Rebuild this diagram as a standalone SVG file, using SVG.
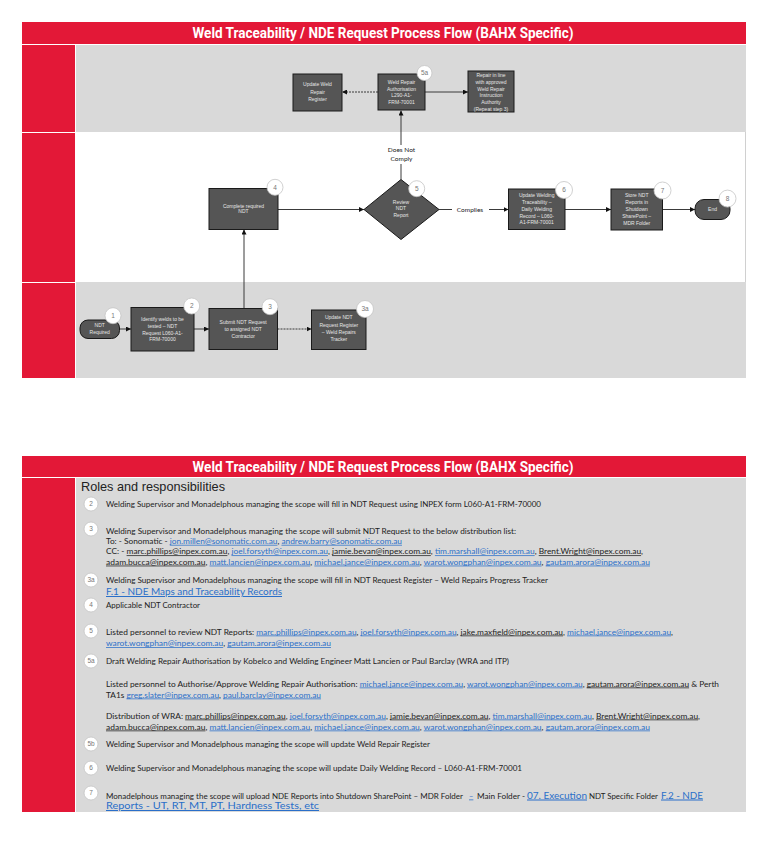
<svg xmlns="http://www.w3.org/2000/svg" width="768" height="866" viewBox="0 0 768 866">
<defs>
<style>
.red{fill:#e31837}
.lane{fill:#d9d9d9}
.title{font-family:Roboto,"Liberation Sans",sans-serif;font-weight:bold;font-size:14px;fill:#fff;text-anchor:middle}
.box{fill:#555;stroke:#1a1a1a;stroke-width:1}
.bt{font-family:"Liberation Sans",Arial,sans-serif;font-size:5px;fill:#e6e6e6;text-anchor:middle}
.num{fill:#fff;stroke:#c4c4c4;stroke-width:0.8}
.nt{font-family:"Liberation Sans",Arial,sans-serif;font-size:6.5px;fill:#777;text-anchor:middle}
.conn{stroke:#3a3a3a;stroke-width:1;fill:none}
.dash{stroke-dasharray:2 1}
.lbl{font-family:Lato,"Liberation Sans",sans-serif;font-size:6.5px;fill:#222;text-anchor:middle}
.tx{font-family:Lato,"Liberation Sans",sans-serif;font-size:7.5px;fill:#222}
.a{fill:#2a6fc9;text-decoration:underline}
.u{text-decoration:underline}
.big{font-size:10px}
.h{font-family:"Liberation Sans",Arial,sans-serif;font-size:13px;fill:#222}
</style>
<marker id="ah" viewBox="0 0 6 6" refX="6" refY="3" markerWidth="5" markerHeight="5" orient="auto" markerUnits="userSpaceOnUse"><path d="M0,0 L6,3 L0,6 z" fill="#111"/></marker>
</defs>
<rect width="768" height="866" fill="#fff"/>

<!-- Top slide -->
<g id="top-slide">
<rect class="red" x="22" y="22" width="724" height="22"/>
<text class="title" x="383" y="38" textLength="381" lengthAdjust="spacingAndGlyphs">Weld Traceability / NDE Request Process Flow (BAHX Specific)</text>
<rect class="red" x="22" y="45" width="53" height="333"/>
<rect x="22" y="132" width="53" height="1" fill="#fff"/>
<rect x="22" y="282" width="53" height="1" fill="#fff"/>
<rect class="lane" x="76" y="45" width="670" height="87"/>
<rect x="76" y="132" width="670" height="150" fill="#fff"/>
<line x1="745.5" y1="132" x2="745.5" y2="282" stroke="#d0d0d0" stroke-width="1"/>
<rect class="lane" x="76" y="282" width="670" height="96"/>
</g>

<g id="connectors">
<path class="conn dash" d="M378,92 L342,92" marker-end="url(#ah)"/>
<path class="conn" d="M425,92 L468,92" marker-end="url(#ah)"/>
<path class="conn" d="M401,179.5 L401,164"/>
<path class="conn" d="M401,145 L401,110.5" marker-end="url(#ah)"/>
<text class="lbl" x="401.5" y="152">Does Not</text>
<text class="lbl" x="401.5" y="161">Comply</text>
<path class="conn" d="M278,209.5 L364,209.5" marker-end="url(#ah)"/>
<path class="conn" d="M439,209.5 L452,209.5"/>
<text class="lbl" x="470" y="211.5">Complies</text>
<path class="conn" d="M489,209.5 L508.5,209.5" marker-end="url(#ah)"/>
<path class="conn" d="M565,209.5 L611,209.5" marker-end="url(#ah)"/>
<path class="conn" d="M662.5,209.5 L695,209.5" marker-end="url(#ah)"/>
<path class="conn" d="M119.5,329 L131,329" marker-end="url(#ah)"/>
<path class="conn" d="M194,329 L209,329" marker-end="url(#ah)"/>
<path class="conn dash" d="M277.5,329 L311.5,329" marker-end="url(#ah)"/>
<path class="conn" d="M244,308.5 L244,229.5" marker-end="url(#ah)"/>
</g>

<g id="n-update-weld-repair-register">
<rect class="box" x="293" y="74" width="49" height="37"/>
<text class="bt" x="317.5" y="86">Update Weld</text>
<text class="bt" x="317.5" y="93.5">Repair</text>
<text class="bt" x="317.5" y="101">Register</text>
</g>
<g id="n-weld-repair-authorisation">
<rect class="box" x="378" y="74" width="47" height="36"/>
<text class="bt" x="401.5" y="83.5">Weld Repair</text>
<text class="bt" x="401.5" y="90.5">Authorisation</text>
<text class="bt" x="401.5" y="97">L290-A1-</text>
<text class="bt" x="401.5" y="104">FRM-70001</text>
<circle class="num" cx="424.5" cy="73" r="7.5"/>
<text class="nt" x="424.5" y="75.3">5a</text>
</g>
<g id="n-repair-in-line">
<rect class="box" x="468" y="71" width="46" height="41"/>
<text class="bt" x="491" y="76.8">Repair in line</text>
<text class="bt" x="491" y="83.8">with approved</text>
<text class="bt" x="491" y="90.5">Weld Repair</text>
<text class="bt" x="491" y="97">Instruction</text>
<text class="bt" x="491" y="104">Authority</text>
<text class="bt" x="491" y="110.5">(Repeat step 3)</text>
</g>
<g id="n-complete-ndt">
<rect class="box" x="209" y="188.5" width="69" height="41"/>
<text class="bt" x="243.5" y="207.5">Complete required</text>
<text class="bt" x="243.5" y="212.5">NDT</text>
<circle class="num" cx="275" cy="187.3" r="8"/>
<text class="nt" x="275" y="189.6">4</text>
</g>
<g id="n-review-ndt-report">
<polygon class="box" points="401,179.5 439,209.5 401,239.5 364,209.5"/>
<text class="bt" x="401" y="203.5">Review</text>
<text class="bt" x="401" y="210">NDT</text>
<text class="bt" x="401" y="216.8">Report</text>
<circle class="num" cx="416.7" cy="188.7" r="8"/>
<text class="nt" x="416.7" y="191">5</text>
</g>
<g id="n-update-welding-traceability">
<rect class="box" x="508.5" y="189" width="56.5" height="40.5"/>
<text class="bt" x="536.7" y="196.8">Update Welding</text>
<text class="bt" x="536.7" y="203.5">Traceability –</text>
<text class="bt" x="536.7" y="210.8">Daily Welding</text>
<text class="bt" x="536.7" y="217.5">Record – L060-</text>
<text class="bt" x="536.7" y="224">A1-FRM-70001</text>
<circle class="num" cx="564" cy="190" r="8.5"/>
<text class="nt" x="564" y="192.3">6</text>
</g>
<g id="n-store-ndt-reports">
<rect class="box" x="611" y="189" width="51.5" height="41"/>
<text class="bt" x="636.7" y="196.8">Store NDT</text>
<text class="bt" x="636.7" y="204">Reports in</text>
<text class="bt" x="636.7" y="210.8">Shutdown</text>
<text class="bt" x="636.7" y="217.5">SharePoint –</text>
<text class="bt" x="636.7" y="224.5">MDR Folder</text>
<circle class="num" cx="662.5" cy="190.5" r="8.5"/>
<text class="nt" x="662.5" y="192.8">7</text>
</g>
<g id="n-end">
<rect class="box" x="695" y="199.5" width="35" height="20" rx="9"/>
<text class="bt" x="712.5" y="211.3">End</text>
<circle class="num" cx="727.5" cy="198.6" r="8.5"/>
<text class="nt" x="727.5" y="200.9">8</text>
</g>
<g id="n-ndt-required">
<rect class="box" x="80" y="320" width="39.5" height="18.5" rx="8"/>
<text class="bt" x="99.7" y="326.8">NDT</text>
<text class="bt" x="99.7" y="334">Required</text>
<circle class="num" cx="113" cy="315.7" r="8"/>
<text class="nt" x="113" y="318">1</text>
</g>
<g id="n-identify-welds">
<rect class="box" x="131" y="307.5" width="63" height="43.5"/>
<text class="bt" x="162.5" y="320.8">Identify welds to be</text>
<text class="bt" x="162.5" y="327.5">tested – NDT</text>
<text class="bt" x="162.5" y="334.5">Request L060-A1-</text>
<text class="bt" x="162.5" y="341">FRM-70000</text>
<circle class="num" cx="191.7" cy="306" r="8"/>
<text class="nt" x="191.7" y="308.3">2</text>
</g>
<g id="n-submit-ndt-request">
<rect class="box" x="209" y="308.5" width="68.5" height="41"/>
<text class="bt" x="243.2" y="324">Submit NDT Request</text>
<text class="bt" x="243.2" y="330.8">to assigned NDT</text>
<text class="bt" x="243.2" y="337.5">Contractor</text>
<circle class="num" cx="270" cy="306.7" r="8"/>
<text class="nt" x="270" y="309">3</text>
</g>
<g id="n-update-ndt-register">
<rect class="box" x="311.5" y="310" width="54.5" height="39.5"/>
<text class="bt" x="338.8" y="318.5">Update NDT</text>
<text class="bt" x="338.8" y="326.8">Request Register</text>
<text class="bt" x="338.8" y="334">– Weld Repairs</text>
<text class="bt" x="338.8" y="341">Tracker</text>
<circle class="num" cx="365" cy="309" r="8.5"/>
<text class="nt" x="365" y="311.3">3a</text>
</g>

<!-- Bottom slide -->
<g id="bottom-slide">
<rect class="red" x="22" y="456" width="724" height="21"/>
<text class="title" x="383" y="471.5" textLength="381" lengthAdjust="spacingAndGlyphs">Weld Traceability / NDE Request Process Flow (BAHX Specific)</text>
<rect class="red" x="22" y="478" width="53" height="334"/>
<rect class="lane" x="76" y="478" width="670" height="334"/>
<text class="h" x="81" y="491" textLength="144" lengthAdjust="spacingAndGlyphs">Roles and responsibilities</text>

<g id="r2">
<circle class="num" cx="91" cy="504" r="7"/><text class="nt" x="91" y="506.3">2</text>
<text class="tx" x="106" y="507" textLength="435" lengthAdjust="spacingAndGlyphs">Welding Supervisor and Monadelphous managing the scope will fill in NDT Request using INPEX form L060-A1-FRM-70000</text>
</g>
<g id="r3">
<circle class="num" cx="91" cy="529" r="7"/><text class="nt" x="91" y="531.3">3</text>
<text class="tx" x="106" y="533.5" textLength="410" lengthAdjust="spacingAndGlyphs">Welding Supervisor and Monadelphous managing the scope will submit NDT Request to the below distribution list:</text>
<text class="tx" x="106" y="543.8" textLength="296" lengthAdjust="spacingAndGlyphs">To: - Sonomatic - <tspan class="a">jon.millen@sonomatic.com.au</tspan>, <tspan class="a">andrew.barry@sonomatic.com.au</tspan></text>
<text class="tx" x="106" y="554.3" textLength="537" lengthAdjust="spacingAndGlyphs">CC: - <tspan class="u">marc.phillips@inpex.com.au</tspan>, <tspan class="a">joel.forsyth@inpex.com.au</tspan>, <tspan class="u">jamie.bevan@inpex.com.au</tspan>, <tspan class="a">tim.marshall@inpex.com.au</tspan>, <tspan class="u">Brent.Wright@inpex.com.au</tspan>,</text>
<text class="tx" x="106" y="564.6" textLength="544" lengthAdjust="spacingAndGlyphs"><tspan class="u">adam.bucca@inpex.com.au</tspan>, <tspan class="a">matt.lancien@inpex.com.au</tspan>, <tspan class="a">michael.jance@inpex.com.au</tspan>, <tspan class="a">warot.wongphan@inpex.com.au</tspan>, <tspan class="a">gautam.arora@inpex.com.au</tspan></text>
</g>
<g id="r3a">
<circle class="num" cx="91" cy="580" r="7"/><text class="nt" x="91" y="582.3">3a</text>
<text class="tx" x="106" y="582.5" textLength="442" lengthAdjust="spacingAndGlyphs">Welding Supervisor and Monadelphous managing the scope will fill in NDT Request Register – Weld Repairs Progress Tracker</text>
<text class="tx big a" x="106" y="595" textLength="176" lengthAdjust="spacingAndGlyphs">F.1 - NDE Maps and Traceability Records</text>
</g>
<g id="r4">
<circle class="num" cx="91" cy="605" r="7"/><text class="nt" x="91" y="607.3">4</text>
<text class="tx" x="106" y="607.5" textLength="94" lengthAdjust="spacingAndGlyphs">Applicable NDT Contractor</text>
</g>
<g id="r5">
<circle class="num" cx="91" cy="631" r="7"/><text class="nt" x="91" y="633.3">5</text>
<text class="tx" x="106" y="634.5" textLength="567" lengthAdjust="spacingAndGlyphs">Listed personnel to review NDT Reports: <tspan class="a">marc.phillips@inpex.com.au</tspan>, <tspan class="a">joel.forsyth@inpex.com.au</tspan>, <tspan class="u">jake.maxfield@inpex.com.au</tspan>, <tspan class="a">michael.jance@inpex.com.au</tspan>,</text>
<text class="tx" x="106" y="646" textLength="225" lengthAdjust="spacingAndGlyphs"><tspan class="a">warot.wongphan@inpex.com.au</tspan>, <tspan class="a">gautam.arora@inpex.com.au</tspan></text>
</g>
<g id="r5a">
<circle class="num" cx="91" cy="661" r="7"/><text class="nt" x="91" y="663.3">5a</text>
<text class="tx" x="106" y="663.5" textLength="403" lengthAdjust="spacingAndGlyphs">Draft Welding Repair Authorisation by Kobelco and Welding Engineer Matt Lancien or Paul Barclay (WRA and ITP)</text>
<text class="tx" x="106" y="686.5" textLength="613" lengthAdjust="spacingAndGlyphs">Listed personnel to Authorise/Approve Welding Repair Authorisation: <tspan class="a">michael.jance@inpex.com.au</tspan>, <tspan class="a">warot.wongphan@inpex.com.au</tspan>, <tspan class="u">gautam.arora@inpex.com.au</tspan> &amp; Perth</text>
<text class="tx" x="106" y="697.5" textLength="215" lengthAdjust="spacingAndGlyphs">TA1s <tspan class="a">greg.slater@inpex.com.au</tspan>, <tspan class="a">paul.barclay@inpex.com.au</tspan></text>
<text class="tx" x="106" y="718.5" textLength="594" lengthAdjust="spacingAndGlyphs">Distribution of WRA: <tspan class="u">marc.phillips@inpex.com.au</tspan>, <tspan class="a">joel.forsyth@inpex.com.au</tspan>, <tspan class="u">jamie.bevan@inpex.com.au</tspan>, <tspan class="a">tim.marshall@inpex.com.au</tspan>, <tspan class="u">Brent.Wright@inpex.com.au</tspan>,</text>
<text class="tx" x="106" y="729.5" textLength="544" lengthAdjust="spacingAndGlyphs"><tspan class="u">adam.bucca@inpex.com.au</tspan>, <tspan class="a">matt.lancien@inpex.com.au</tspan>, <tspan class="a">michael.jance@inpex.com.au</tspan>, <tspan class="a">warot.wongphan@inpex.com.au</tspan>, <tspan class="a">gautam.arora@inpex.com.au</tspan></text>
</g>
<g id="r5b">
<circle class="num" cx="91" cy="744" r="7"/><text class="nt" x="91" y="746.3">5b</text>
<text class="tx" x="106" y="746.5" textLength="324" lengthAdjust="spacingAndGlyphs">Welding Supervisor and Monadelphous managing the scope will update Weld Repair Register</text>
</g>
<g id="r6">
<circle class="num" cx="91" cy="768" r="7"/><text class="nt" x="91" y="770.3">6</text>
<text class="tx" x="106" y="770.5" textLength="416" lengthAdjust="spacingAndGlyphs">Welding Supervisor and Monadelphous managing the scope will update Daily Welding Record – L060-A1-FRM-70001</text>
</g>
<g id="r7">
<circle class="num" cx="91" cy="793" r="7"/><text class="nt" x="91" y="795.3">7</text>
<text class="tx" x="106" y="798.5" textLength="357" lengthAdjust="spacingAndGlyphs">Monadelphous managing the scope will upload NDE Reports into Shutdown SharePoint – MDR Folder</text>
<text class="tx a" x="469" y="798.5">–</text>
<text class="tx" x="477" y="798.5" textLength="48" lengthAdjust="spacingAndGlyphs">Main Folder -</text>
<text class="tx big a" x="527" y="798.5" textLength="60" lengthAdjust="spacingAndGlyphs">07. Execution</text>
<text class="tx" x="589" y="798.5" textLength="69" lengthAdjust="spacingAndGlyphs">NDT Specific Folder</text>
<text class="tx big a" x="661" y="798.5" textLength="42" lengthAdjust="spacingAndGlyphs">F.2 - NDE</text>
<text class="tx big a" x="106" y="809" textLength="213" lengthAdjust="spacingAndGlyphs">Reports - UT, RT, MT, PT, Hardness Tests, etc</text>
</g>
</g>
</svg>
